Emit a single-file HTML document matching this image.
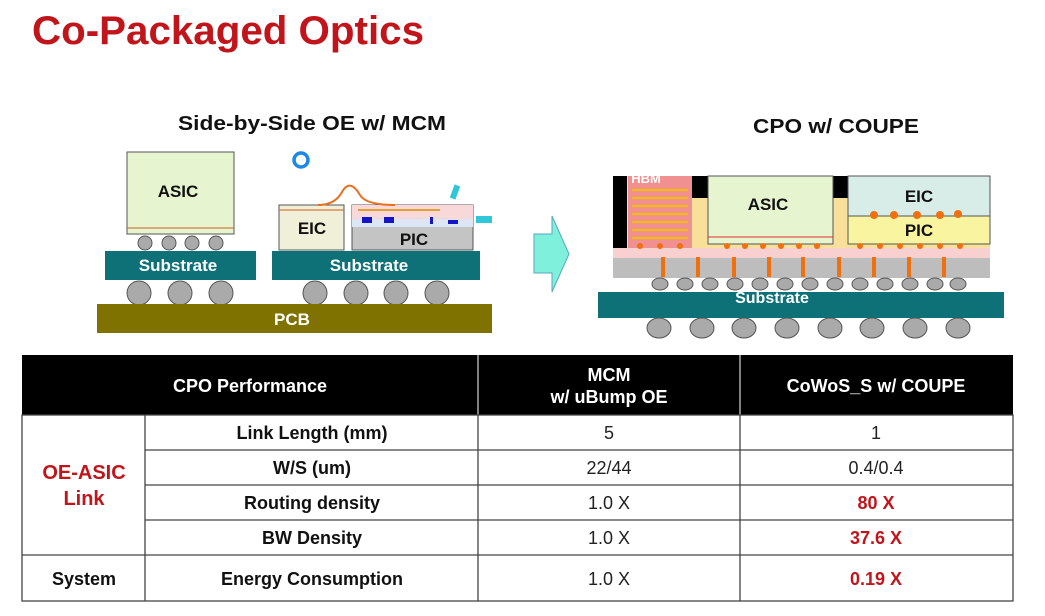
<!DOCTYPE html>
<html><head><meta charset="utf-8"><style>
html,body{margin:0;padding:0;background:#fff;}
svg{display:block;font-family:"Liberation Sans",Arial,sans-serif;}
</style></head><body>
<svg width="1045" height="616" viewBox="0 0 1045 616">
<text x="32" y="44" font-size="40" font-weight="bold" fill="#c0151b" textLength="392" lengthAdjust="spacingAndGlyphs">Co-Packaged Optics</text>

<!-- left diagram -->
<g>
<text x="178" y="130" font-size="20" font-weight="bold" fill="#111" textLength="268" lengthAdjust="spacingAndGlyphs">Side-by-Side OE w/ MCM</text>
<circle cx="301" cy="160" r="7" fill="none" stroke="#1e88e5" stroke-width="3.5"/>
<rect x="127" y="152" width="107" height="82" fill="#e6f5d0" stroke="#555"/>
<line x1="127" y1="228" x2="234" y2="228" stroke="#d0601c"/>
<text x="178" y="197" font-size="17" font-weight="bold" text-anchor="middle" fill="#111">ASIC</text>
<g fill="#aaa" stroke="#555"><circle cx="145" cy="243" r="7"/><circle cx="169" cy="243" r="7"/><circle cx="192" cy="243" r="7"/><circle cx="216" cy="243" r="7"/></g>
<rect x="105" y="251" width="151" height="29" fill="#0e7178"/>
<text x="178" y="271" font-size="17" font-weight="bold" text-anchor="middle" fill="#fff">Substrate</text>
<rect x="279" y="205" width="65" height="45" fill="#f0f0d8" stroke="#555"/>
<line x1="279" y1="210" x2="344" y2="210" stroke="#d0601c"/>
<text x="312" y="234" font-size="17" font-weight="bold" text-anchor="middle" fill="#111">EIC</text>
<rect x="352" y="205" width="121" height="45" fill="#c4c4c4" stroke="#555"/>
<rect x="352" y="205" width="121" height="14" fill="#f8d8d8"/>
<rect x="352" y="219" width="121" height="8" fill="#dce6f5"/>
<rect x="362" y="217" width="10" height="6" fill="#1414c8"/><rect x="384" y="217" width="10" height="6" fill="#1414c8"/><rect x="430" y="217" width="3" height="7" fill="#1414c8"/><rect x="448" y="220" width="10" height="4" fill="#1414c8"/>
<line x1="358" y1="210" x2="440" y2="210" stroke="#e0a030" stroke-width="2"/>
<text x="414" y="245" font-size="17" font-weight="bold" text-anchor="middle" fill="#111">PIC</text>
<path d="M318 205 Q 335 205 342 192 Q 350 178 360 195 Q 366 205 395 205" fill="none" stroke="#e87020" stroke-width="2"/>
<rect x="452" y="185" width="6" height="14" fill="#30c8d8" transform="rotate(20 455 192)"/>
<rect x="476" y="216" width="16" height="7" fill="#30c8d8"/>
<rect x="272" y="251" width="208" height="29" fill="#0e7178"/>
<text x="369" y="271" font-size="17" font-weight="bold" text-anchor="middle" fill="#fff">Substrate</text>
<g fill="#aaa" stroke="#555"><circle cx="139" cy="293" r="12"/><circle cx="180" cy="293" r="12"/><circle cx="221" cy="293" r="12"/><circle cx="315" cy="293" r="12"/><circle cx="356" cy="293" r="12"/><circle cx="396" cy="293" r="12"/><circle cx="437" cy="293" r="12"/></g>
<rect x="97" y="304" width="395" height="29" fill="#7f7200"/>
<text x="292" y="325" font-size="17" font-weight="bold" text-anchor="middle" fill="#fff">PCB</text>
</g>

<path d="M534 234 L552 234 L552 216 L569 254 L552 292 L552 273 L534 273 Z" fill="#7ff0dc" stroke="#5ab"/>

<!-- right diagram -->
<g>
<text x="753" y="133" font-size="20" font-weight="bold" fill="#111" textLength="166" lengthAdjust="spacingAndGlyphs">CPO w/ COUPE</text>
<rect x="613" y="176" width="377" height="72" fill="#f8e09a"/>
<rect x="613" y="176" width="14" height="72" fill="#000"/>
<rect x="628" y="176" width="64" height="72" fill="#f09090"/>
<g stroke="#f0c000" stroke-width="2"><line x1="632" y1="190" x2="688" y2="190"/><line x1="632" y1="198" x2="688" y2="198"/><line x1="632" y1="206" x2="688" y2="206"/><line x1="632" y1="214" x2="688" y2="214"/><line x1="632" y1="222" x2="688" y2="222"/><line x1="632" y1="230" x2="688" y2="230"/><line x1="632" y1="238" x2="688" y2="238"/></g>
<text x="646" y="183" font-size="13" font-weight="bold" fill="#fff" text-anchor="middle">HBM</text>
<rect x="692" y="176" width="16" height="22" fill="#000"/>
<rect x="833" y="176" width="15" height="22" fill="#000"/>
<rect x="708" y="176" width="125" height="68" fill="#e6f5d0" stroke="#555"/>
<line x1="708" y1="237" x2="833" y2="237" stroke="#e03030"/>
<text x="768" y="210" font-size="17" font-weight="bold" text-anchor="middle" fill="#111">ASIC</text>
<rect x="848" y="176" width="142" height="40" fill="#d8ece8" stroke="#555"/>
<rect x="848" y="216" width="142" height="28" fill="#f8f4a0" stroke="#555"/>
<text x="919" y="202" font-size="17" font-weight="bold" text-anchor="middle" fill="#111">EIC</text>
<text x="919" y="236" font-size="17" font-weight="bold" text-anchor="middle" fill="#111">PIC</text>
<g fill="#f07010"><circle cx="874" cy="215" r="4"/><circle cx="894" cy="215" r="4"/><circle cx="917" cy="215" r="4"/><circle cx="940" cy="215" r="4"/><circle cx="958" cy="214" r="4"/></g>
<rect x="613" y="248" width="377" height="10" fill="#f8d0d0"/>
<rect x="613" y="258" width="377" height="20" fill="#bdbdbd"/>
<g fill="#f07010"><rect x="661" y="257" width="4" height="20"/><rect x="696" y="257" width="4" height="20"/><rect x="732" y="257" width="4" height="20"/><rect x="767" y="257" width="4" height="20"/><rect x="801" y="257" width="4" height="20"/><rect x="837" y="257" width="4" height="20"/><rect x="872" y="257" width="4" height="20"/><rect x="907" y="257" width="4" height="20"/><rect x="942" y="257" width="4" height="20"/></g>
<g fill="#f07010"><circle cx="727" cy="246" r="3"/><circle cx="745" cy="246" r="3"/><circle cx="763" cy="246" r="3"/><circle cx="781" cy="246" r="3"/><circle cx="799" cy="246" r="3"/><circle cx="817" cy="246" r="3"/><circle cx="860" cy="246" r="3"/><circle cx="880" cy="246" r="3"/><circle cx="900" cy="246" r="3"/><circle cx="920" cy="246" r="3"/><circle cx="940" cy="246" r="3"/><circle cx="960" cy="246" r="3"/><circle cx="640" cy="246" r="3"/><circle cx="660" cy="246" r="3"/><circle cx="680" cy="246" r="3"/></g>
<g fill="#aaa" stroke="#555"><ellipse cx="660" cy="284" rx="8" ry="6"/><ellipse cx="685" cy="284" rx="8" ry="6"/><ellipse cx="710" cy="284" rx="8" ry="6"/><ellipse cx="735" cy="284" rx="8" ry="6"/><ellipse cx="760" cy="284" rx="8" ry="6"/><ellipse cx="785" cy="284" rx="8" ry="6"/><ellipse cx="810" cy="284" rx="8" ry="6"/><ellipse cx="835" cy="284" rx="8" ry="6"/><ellipse cx="860" cy="284" rx="8" ry="6"/><ellipse cx="885" cy="284" rx="8" ry="6"/><ellipse cx="910" cy="284" rx="8" ry="6"/><ellipse cx="935" cy="284" rx="8" ry="6"/><ellipse cx="958" cy="284" rx="8" ry="6"/></g>
<rect x="598" y="292" width="406" height="26" fill="#0e7178"/>
<text x="772" y="303" font-size="16" font-weight="bold" text-anchor="middle" fill="#fff">Substrate</text>
<g fill="#aaa" stroke="#555"><ellipse cx="659" cy="328" rx="12" ry="10"/><ellipse cx="702" cy="328" rx="12" ry="10"/><ellipse cx="744" cy="328" rx="12" ry="10"/><ellipse cx="787" cy="328" rx="12" ry="10"/><ellipse cx="830" cy="328" rx="12" ry="10"/><ellipse cx="872" cy="328" rx="12" ry="10"/><ellipse cx="915" cy="328" rx="12" ry="10"/><ellipse cx="958" cy="328" rx="12" ry="10"/></g>
</g>

<!-- table -->
<g font-weight="bold">
<rect x="22" y="355" width="991" height="60" fill="#000"/>
<line x1="478" y1="355" x2="478" y2="415" stroke="#fff"/>
<line x1="740" y1="355" x2="740" y2="415" stroke="#fff"/>
<text x="250" y="392" font-size="18" fill="#fff" text-anchor="middle">CPO Performance</text>
<text x="609" y="381" font-size="18" fill="#fff" text-anchor="middle">MCM</text>
<text x="609" y="403" font-size="18" fill="#fff" text-anchor="middle">w/ uBump OE</text>
<text x="876" y="392" font-size="18" fill="#fff" text-anchor="middle">CoWoS_S w/ COUPE</text>
<g stroke="#444" stroke-width="1.3" fill="none">
<rect x="22" y="415" width="991" height="186"/>
<line x1="145" y1="415" x2="145" y2="601"/>
<line x1="478" y1="415" x2="478" y2="601"/>
<line x1="740" y1="415" x2="740" y2="601"/>
<line x1="145" y1="450" x2="1013" y2="450"/>
<line x1="145" y1="485" x2="1013" y2="485"/>
<line x1="145" y1="520" x2="1013" y2="520"/>
<line x1="22" y1="555" x2="1013" y2="555"/>
</g>
<text x="84" y="479" font-size="20" fill="#c0151b" text-anchor="middle">OE-ASIC</text>
<text x="84" y="505" font-size="20" fill="#c0151b" text-anchor="middle">Link</text>
<text x="84" y="585" font-size="18" fill="#111" text-anchor="middle">System</text>
<g font-size="18" fill="#111" text-anchor="middle">
<text x="312" y="439">Link Length (mm)</text>
<text x="312" y="474">W/S (um)</text>
<text x="312" y="509">Routing density</text>
<text x="312" y="544">BW Density</text>
<text x="312" y="585">Energy Consumption</text>
</g>
<g font-size="18" fill="#222" text-anchor="middle" font-weight="normal">
<text x="609" y="439">5</text>
<text x="609" y="474">22/44</text>
<text x="609" y="509">1.0 X</text>
<text x="609" y="544">1.0 X</text>
<text x="609" y="585">1.0 X</text>
<text x="876" y="439">1</text>
<text x="876" y="474">0.4/0.4</text>
</g>
<g font-size="18" fill="#c0151b" text-anchor="middle">
<text x="876" y="509">80 X</text>
<text x="876" y="544">37.6 X</text>
<text x="876" y="585">0.19 X</text>
</g>
</g>
</svg>
</body></html>
